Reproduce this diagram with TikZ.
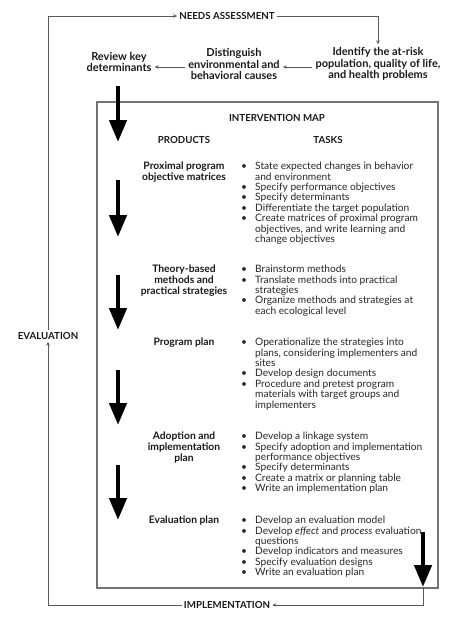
\documentclass[tikz,border=0pt]{standalone}
\usepackage{fontspec}
\setmainfont{Lato}
\usetikzlibrary{arrows.meta,positioning,calc}

\newcommand{\bul}{\makebox[14pt][l]{\textbullet}}
\newcommand{\cnt}{\hspace*{14pt}}

\begin{document}
\begin{tikzpicture}[
    x=1pt, y=-1pt,
    font=\fontsize{10.2}{10.4}\selectfont,
    head/.style={font=\fontsize{11}{11.5}\selectfont\bfseries, align=center, inner sep=3pt, text=black!90},
    caps/.style={font=\fontsize{9.7}{10}\selectfont\bfseries, inner sep=2pt, text=black!90},
    prod/.style={head, font=\fontsize{10.3}{10.8}\selectfont\bfseries, anchor=north, inner sep=0pt},
    tasklist/.style={align=left, anchor=north west, inner sep=0pt, text=black!85},
    loopline/.style={draw=black!65, line width=0.7pt},
    smallarr/.style={-{Stealth[length=4pt,width=3.5pt]}},
    bigarrow/.style={line width=4.5pt, -{Triangle[length=22pt,width=17pt]}},
    mapframe/.style={draw=black!55, line width=1.4pt}
]
\useasboundingbox (0,0) rectangle (474,618);

\draw[mapframe] (97,102) rectangle (438,588);

\node[caps] (needs) at (227,16) {NEEDS ASSESSMENT};
\node[head] (identify) at (378,64) {Identify the at-risk\\population, quality of life,\\and health problems};
\node[head] (distinguish) at (234,64) {Distinguish\\environmental and\\behavioral causes};
\node[head] (review) at (119,62) {Review key\\determinants};
\node[caps] (evallab) at (48,336) {EVALUATION};
\node[caps] (implab) at (227,605) {IMPLEMENTATION};

\node[caps] (maptitle) at (277,118) {INTERVENTION MAP};
\node[caps] (products) at (184,140) {PRODUCTS};
\node[caps] (tasks) at (328,140) {TASKS};

\node[prod] (prod1) at (184,162) {Proximal program\\objective matrices};
\node[prod] (prod2) at (184,265) {Theory-based\\methods and\\practical strategies};
\node[prod] (prod3) at (184,338) {Program plan};
\node[prod] (prod4) at (184,432) {Adoption and\\implementation\\plan};
\node[prod] (prod5) at (184,516) {Evaluation plan};

\node[tasklist] (task1) at (241,162) {\bul State expected changes in behavior\\
  \cnt and environment\\
  \bul Specify performance objectives\\
  \bul Specify determinants\\
  \bul Differentiate the target population\\
  \bul Create matrices of proximal program\\
  \cnt objectives, and write learning and\\
  \cnt change objectives};
\node[tasklist] (task2) at (241,265) {\bul Brainstorm methods\\
  \bul Translate methods into practical\\
  \cnt strategies\\
  \bul Organize methods and strategies at\\
  \cnt each ecological level};
\node[tasklist] (task3) at (241,338) {\bul Operationalize the strategies into\\
  \cnt plans, considering implementers and\\
  \cnt sites\\
  \bul Develop design documents\\
  \bul Procedure and pretest program\\
  \cnt materials with target groups and\\
  \cnt implementers};
\node[tasklist] (task4) at (241,432) {\bul Develop a linkage system\\
  \bul Specify adoption and implementation\\
  \cnt performance objectives\\
  \bul Specify determinants\\
  \bul Create a matrix or planning table\\
  \bul Write an implementation plan};
\node[tasklist] (task5) at (241,516) {\bul Develop an evaluation model\\
  \bul Develop \textit{effect} and \textit{process} evaluation\\
  \cnt questions\\
  \bul Develop indicators and measures\\
  \bul Specify evaluation designs\\
  \bul Write an evaluation plan};

\draw[loopline, smallarr] (needs.east) -| (identify.north);
\draw[loopline, smallarr] ([yshift=-3pt]identify.west) -- ([yshift=-3pt]distinguish.east);
\draw[loopline, smallarr] ([yshift=-3pt]distinguish.west) -- ([yshift=-3pt]distinguish.west -| review.east);

\foreach \ya/\yb in {86/142, 180/237, 275/330, 370/425, 465/520}
  \draw[bigarrow] (118,\ya) -- (118,\yb);

\coordinate (mapout) at (423,587);
\draw[bigarrow] (423,532) -- (mapout);
\draw[loopline, smallarr] (mapout) |- (implab.east);
\draw[loopline, smallarr] (implab.west) -| (evallab.south);
\draw[loopline, smallarr] (evallab.north) |- (needs.west);

\end{tikzpicture}
\end{document}
